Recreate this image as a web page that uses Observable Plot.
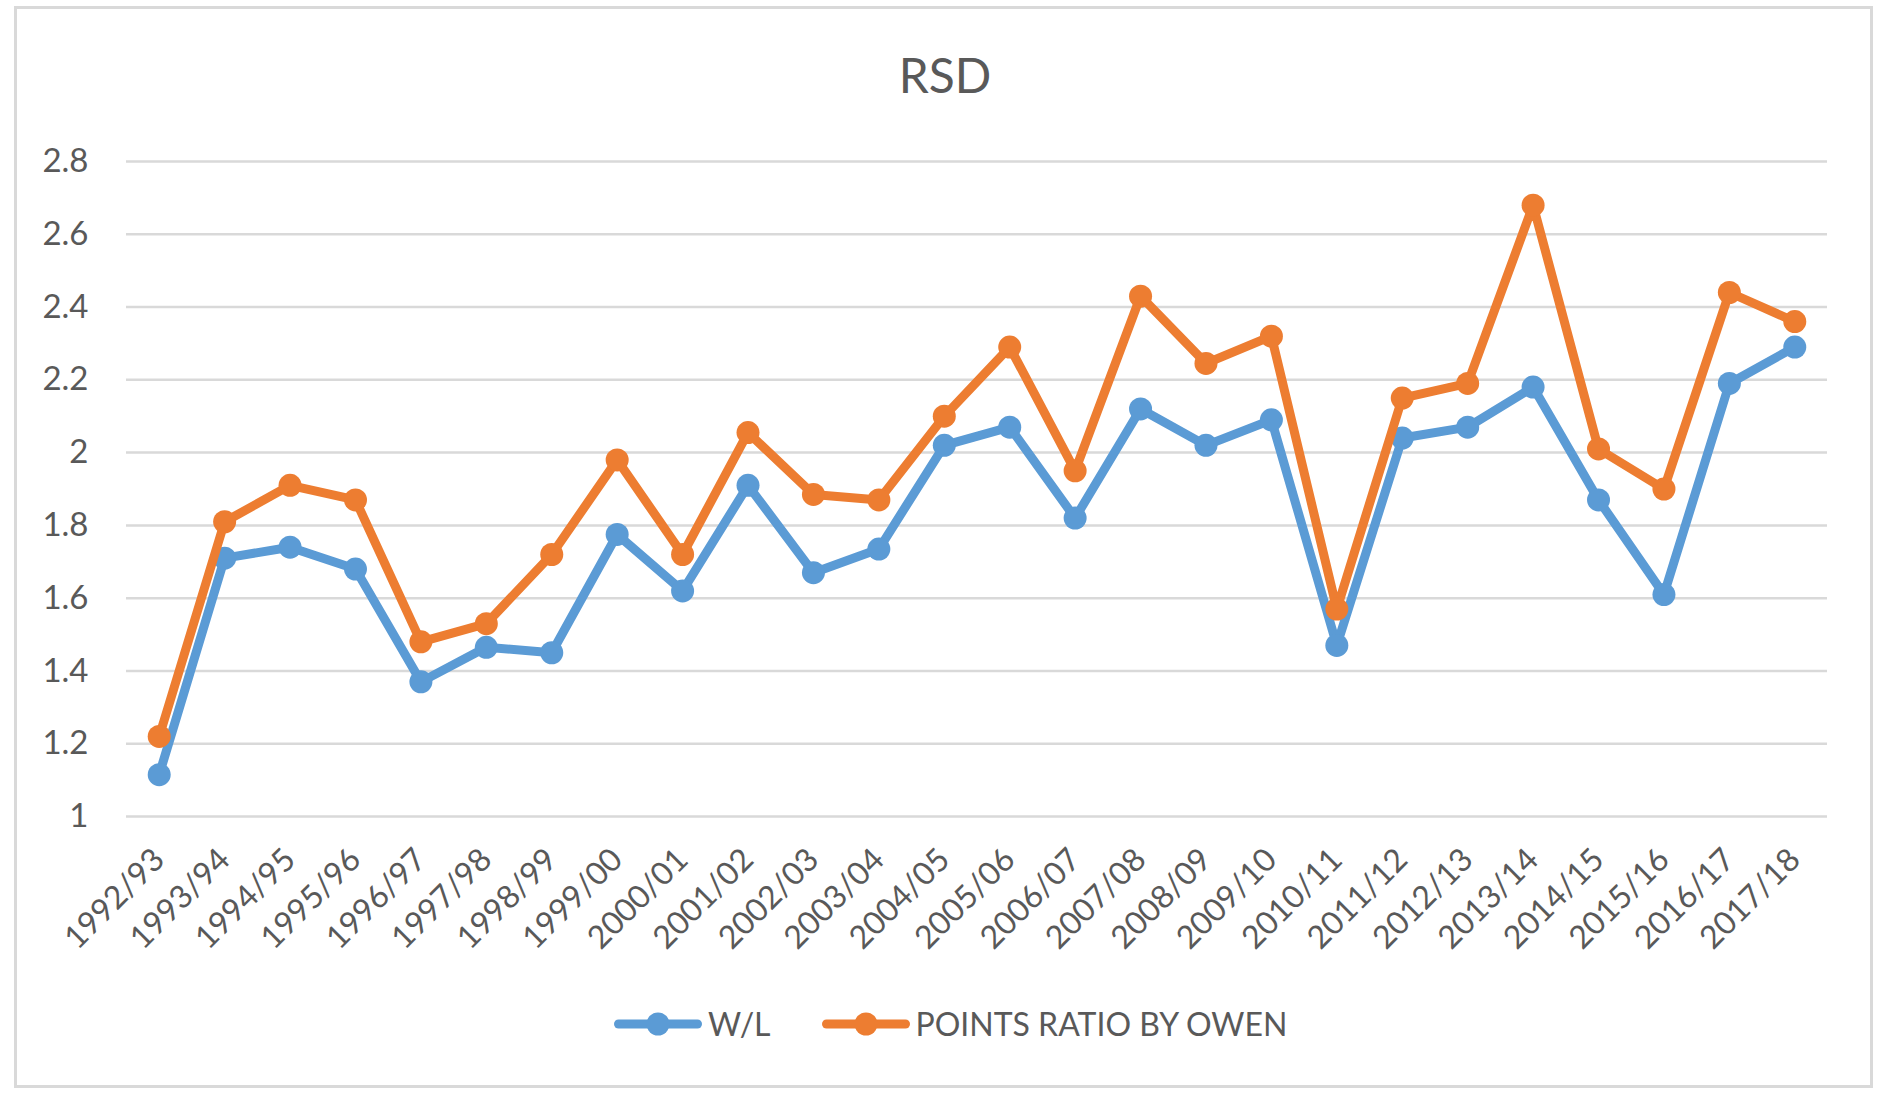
<!DOCTYPE html>
<html>
<head>
<meta charset="utf-8">
<script src="https://cdn.jsdelivr.net/npm/d3@7"></script>
<script src="https://cdn.jsdelivr.net/npm/@observablehq/plot@0.6"></script>
<style>
  html, body { margin: 0; padding: 0; background: #fff; }
  #wrap { position: relative; width: 1882px; height: 1105px; overflow: hidden; font-family: Lato, "Open Sans", sans-serif; color: #595959; }
  #border { position: absolute; left: 14px; top: 6px; width: 1859px; height: 1082px; box-sizing: border-box; border: 3px solid #d9d9d9; }
  #title { position: absolute; left: 0; width: 1890px; top: 51px; text-align: center; font-size: 48px; line-height: 48px; }
  #chart { position: absolute; left: 0; top: 0; }
  #legend { position: absolute; left: 614px; top: 1008px; display: flex; align-items: center; font-size: 32px; line-height: 32px; }
  .item { display: flex; align-items: center; }
  .item svg { display: block; margin-right: 6px; }
  .item + .item { margin-left: 51px; }
</style>
</head>
<body>
<div id="wrap">
  <div id="border"></div>
  <div id="chart"></div>
  <div id="title">RSD</div>
  <div id="legend"></div>
</div>
<script>
const seasons = ["1992/93","1993/94","1994/95","1995/96","1996/97","1997/98","1998/99","1999/00","2000/01","2001/02","2002/03","2003/04","2004/05","2005/06","2006/07","2007/08","2008/09","2009/10","2010/11","2011/12","2012/13","2013/14","2014/15","2015/16","2016/17","2017/18"];
const wl   = [1.115,1.71,1.74,1.68,1.37,1.465,1.45,1.775,1.62,1.91,1.67,1.735,2.02,2.07,1.82,2.12,2.02,2.09,1.47,2.04,2.07,2.18,1.87,1.61,2.19,2.29];
const owen = [1.22,1.81,1.91,1.87,1.48,1.53,1.72,1.98,1.72,2.055,1.885,1.87,2.10,2.29,1.95,2.43,2.245,2.32,1.57,2.15,2.19,2.68,2.01,1.90,2.44,2.36];
const seriesNames = ["W/L", "POINTS RATIO BY OWEN"];
const seriesColors = ["#5b9bd5", "#ed7d31"];
const yTicks = [1, 1.2, 1.4, 1.6, 1.8, 2, 2.2, 2.4, 2.6, 2.8];

const rowsWL = seasons.map((s, i) => ({season: s, value: wl[i], series: seriesNames[0]}));
const rowsOwen = seasons.map((s, i) => ({season: s, value: owen[i], series: seriesNames[1]}));

const lineOpts = (c) => ({x: "season", y: "value", stroke: c, strokeWidth: 9, strokeLinejoin: "round", strokeLinecap: "round"});
const dotOpts = (c) => ({x: "season", y: "value", r: 11.5, fill: c, stroke: null});

const chart = Plot.plot({
  width: 1882,
  height: 960,
  marginLeft: 126,
  marginRight: 55,
  marginTop: 161,
  marginBottom: 144,
  style: {fontFamily: "Lato, 'Open Sans', sans-serif", fontSize: "32px", color: "#595959", background: "transparent"},
  x: {type: "point", domain: seasons, padding: 0.5, round: false, label: null},
  y: {domain: [1, 2.8], label: null},
  marks: [
    Plot.gridY(yTicks, {stroke: "#d9d9d9", strokeOpacity: 1, strokeWidth: 2.5}),
    Plot.axisY(yTicks, {tickSize: 0, tickPadding: 38, tickFormat: d => String(+d.toFixed(1)), fontSize: 33, label: null}),
    Plot.axisX({tickRotate: -45, tickSize: 0, tickPadding: 38, fontSize: 32, label: null}),
    Plot.line(rowsWL, lineOpts(seriesColors[0])),
    Plot.dot(rowsWL, dotOpts(seriesColors[0])),
    Plot.line(rowsOwen, lineOpts(seriesColors[1])),
    Plot.dot(rowsOwen, dotOpts(seriesColors[1]))
  ]
});
document.getElementById("chart").appendChild(chart);

const legend = document.getElementById("legend");
seriesNames.forEach((name, i) => {
  const item = document.createElement("div");
  item.className = "item";
  const ns = "http://www.w3.org/2000/svg";
  const sv = document.createElementNS(ns, "svg");
  sv.setAttribute("width", "88");
  sv.setAttribute("height", "26");
  const ln = document.createElementNS(ns, "line");
  ln.setAttribute("x1", "4.5"); ln.setAttribute("x2", "83.5");
  ln.setAttribute("y1", "13"); ln.setAttribute("y2", "13");
  ln.setAttribute("stroke", seriesColors[i]);
  ln.setAttribute("stroke-width", "9");
  ln.setAttribute("stroke-linecap", "round");
  const c = document.createElementNS(ns, "circle");
  c.setAttribute("cx", "44"); c.setAttribute("cy", "13"); c.setAttribute("r", "11.5");
  c.setAttribute("fill", seriesColors[i]);
  sv.appendChild(ln); sv.appendChild(c);
  const sp = document.createElement("span");
  sp.textContent = name;
  item.appendChild(sv); item.appendChild(sp);
  legend.appendChild(item);
});
</script>
</body>
</html>
